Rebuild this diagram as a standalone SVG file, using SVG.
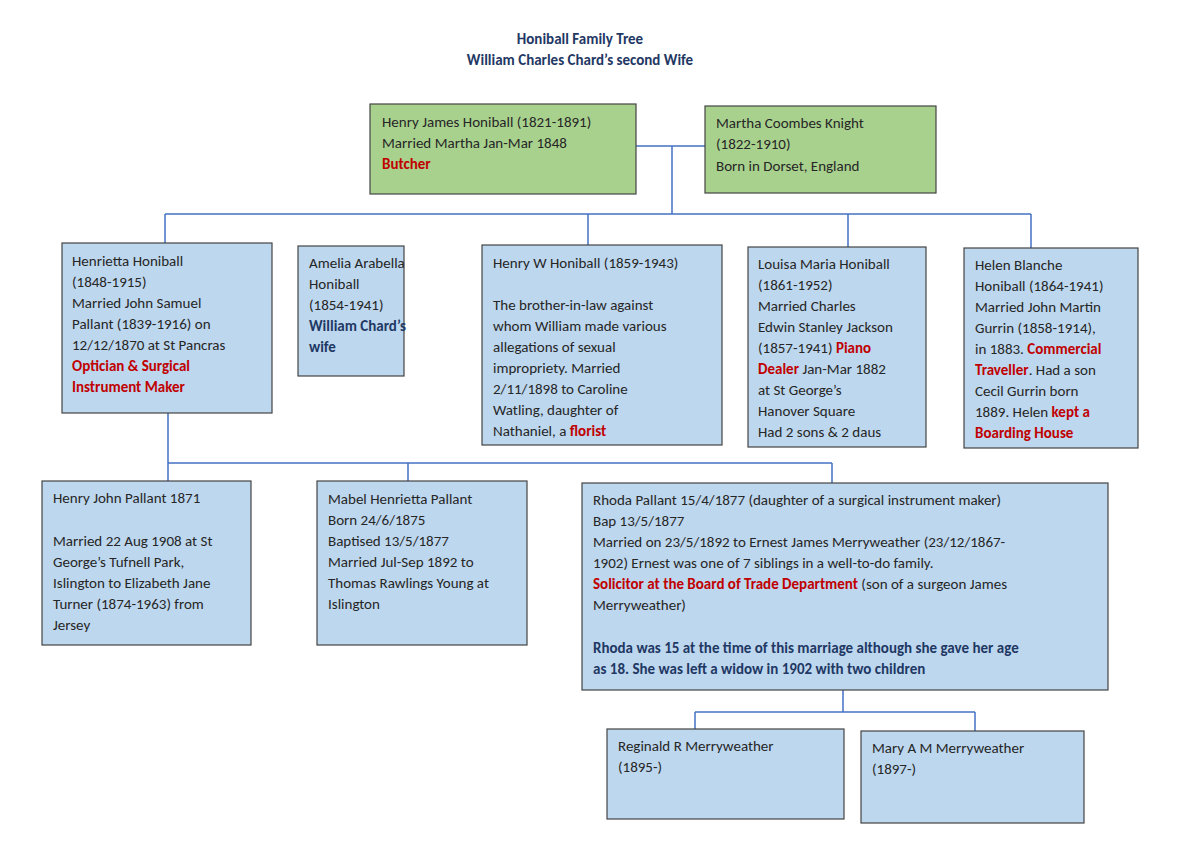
<svg xmlns="http://www.w3.org/2000/svg" width="1200" height="848" viewBox="0 0 1200 848">
<style>
text{font-family:Carlito,Lato,"Liberation Sans",sans-serif;font-size:15px;fill:#262626}
.t{font-weight:bold;fill:#1f3864;text-anchor:middle}
.r{fill:#c00000;font-weight:bold}
.b{fill:#1f3864;font-weight:bold}
.g{fill:#a9d18e;stroke:#444;stroke-width:1.2}
.n{fill:#bdd7ee;stroke:#444;stroke-width:1.2}
.c{stroke:#4472c4;stroke-width:1.5;fill:none}
</style>
<rect width="1200" height="848" fill="#fff"/>
<text class="t" x="580" y="44">Honiball Family Tree</text>
<text class="t" x="580" y="65">William Charles Chard’s second Wife</text>
<g id="connectors">
<path class="c" d="M636 146H705M672 146V214M165 214H1031M165 214V243M588 214V245M848 214V247M1031 214V248"/>
<path class="c" d="M168 413V463H832M168 463V481M408 463V481M832 463V483"/>
<path class="c" d="M843 690V712M695 712H975M695 712V729M975 712V731"/>
</g>
<g id="henry-james"><rect class="g" x="370" y="104" width="266" height="90"/>
<text x="382" y="127">Henry James Honiball (1821-1891)</text>
<text x="382" y="148">Married Martha Jan-Mar 1848</text>
<text x="382" y="169" class="r">Butcher</text></g>
<g id="martha"><rect class="g" x="705" y="106" width="231" height="87"/>
<text x="716" y="128">Martha Coombes Knight</text>
<text x="716" y="149">(1822-1910)</text>
<text x="716" y="171">Born in Dorset, England</text></g>
<g id="henrietta"><rect class="n" x="62" y="243" width="210" height="170"/>
<text x="72" y="266">Henrietta Honiball</text>
<text x="72" y="287">(1848-1915)</text>
<text x="72" y="308">Married John Samuel</text>
<text x="72" y="329">Pallant (1839-1916) on</text>
<text x="72" y="350">12/12/1870 at St Pancras</text>
<text x="72" y="371" class="r">Optician &amp; Surgical</text>
<text x="72" y="392" class="r">Instrument Maker</text></g>
<g id="amelia"><rect class="n" x="298" y="246" width="106" height="130"/>
<text x="309" y="268">Amelia Arabella</text>
<text x="309" y="289">Honiball</text>
<text x="309" y="310">(1854-1941)</text>
<text x="309" y="331" class="b">William Chard’s</text>
<text x="309" y="352" class="b">wife</text></g>
<g id="henry-w"><rect class="n" x="482" y="245" width="240" height="200"/>
<text x="493" y="268">Henry W Honiball (1859-1943)</text>
<text x="493" y="310">The brother-in-law against</text>
<text x="493" y="331">whom William made various</text>
<text x="493" y="352">allegations of sexual</text>
<text x="493" y="373">impropriety. Married</text>
<text x="493" y="394">2/11/1898 to Caroline</text>
<text x="493" y="415">Watling, daughter of</text>
<text x="493" y="436">Nathaniel, a <tspan class="r">florist</tspan></text></g>
<g id="louisa"><rect class="n" x="748" y="247" width="178" height="200"/>
<text x="758" y="269">Louisa Maria Honiball</text>
<text x="758" y="290">(1861-1952)</text>
<text x="758" y="311">Married Charles</text>
<text x="758" y="332">Edwin Stanley Jackson</text>
<text x="758" y="353">(1857-1941) <tspan class="r">Piano</tspan></text>
<text x="758" y="374"><tspan class="r">Dealer</tspan> Jan-Mar 1882</text>
<text x="758" y="395">at St George’s</text>
<text x="758" y="416">Hanover Square</text>
<text x="758" y="437">Had 2 sons &amp; 2 daus</text></g>
<g id="helen"><rect class="n" x="964" y="248" width="174" height="200"/>
<text x="975" y="270">Helen Blanche</text>
<text x="975" y="291">Honiball (1864-1941)</text>
<text x="975" y="312">Married John Martin</text>
<text x="975" y="333">Gurrin (1858-1914),</text>
<text x="975" y="354">in 1883. <tspan class="r">Commercial</tspan></text>
<text x="975" y="375"><tspan class="r">Traveller</tspan>. Had a son</text>
<text x="975" y="396">Cecil Gurrin born</text>
<text x="975" y="417">1889. Helen <tspan class="r">kept a</tspan></text>
<text x="975" y="438" class="r">Boarding House</text></g>
<g id="henry-john"><rect class="n" x="42" y="481" width="209" height="164"/>
<text x="53" y="503">Henry John Pallant 1871</text>
<text x="53" y="546">Married 22 Aug 1908 at  St</text>
<text x="53" y="567">George’s Tufnell Park,</text>
<text x="53" y="588">Islington to Elizabeth Jane</text>
<text x="53" y="609">Turner (1874-1963) from</text>
<text x="53" y="630">Jersey</text></g>
<g id="mabel"><rect class="n" x="317" y="481" width="210" height="164"/>
<text x="328" y="504">Mabel Henrietta Pallant</text>
<text x="328" y="525">Born 24/6/1875</text>
<text x="328" y="546">Baptised 13/5/1877</text>
<text x="328" y="567">Married Jul-Sep 1892 to</text>
<text x="328" y="588">Thomas Rawlings Young at</text>
<text x="328" y="609">Islington</text></g>
<g id="rhoda"><rect class="n" x="582" y="483" width="526" height="207"/>
<text x="593" y="505">Rhoda Pallant 15/4/1877 (daughter of a surgical instrument maker)</text>
<text x="593" y="526">Bap 13/5/1877</text>
<text x="593" y="547">Married on 23/5/1892 to Ernest James Merryweather (23/12/1867-</text>
<text x="593" y="568">1902) Ernest was one of 7 siblings in a well-to-do family.</text>
<text x="593" y="589"><tspan class="r">Solicitor at the Board of Trade Department</tspan>  (son of a surgeon James</text>
<text x="593" y="610">Merryweather)</text>
<text x="593" y="653" class="b">Rhoda was 15 at the time of this marriage although she gave her age</text>
<text x="593" y="674" class="b">as 18. She was left a widow in 1902 with two children</text></g>
<g id="reginald"><rect class="n" x="607" y="729" width="237" height="90"/>
<text x="618" y="751">Reginald R Merryweather</text>
<text x="618" y="772">(1895-)</text></g>
<g id="mary"><rect class="n" x="861" y="731" width="223" height="92"/>
<text x="872" y="753">Mary A M Merryweather</text>
<text x="872" y="774">(1897-)</text></g>
</svg>
